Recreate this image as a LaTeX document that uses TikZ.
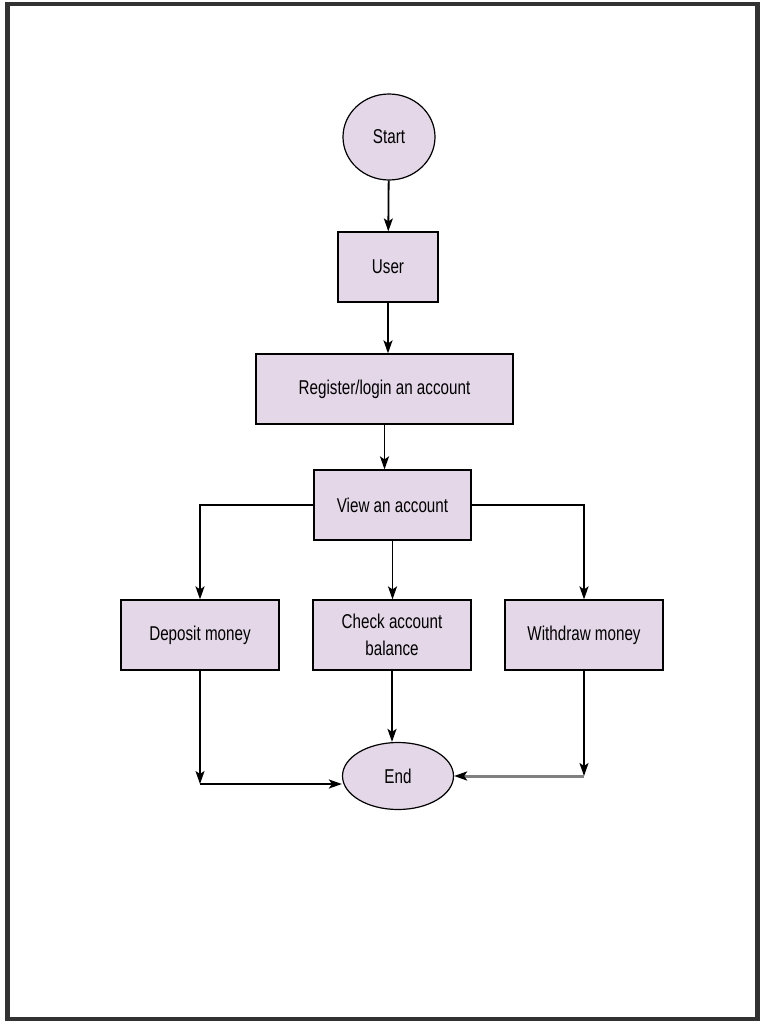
\documentclass[tikz,border=0pt]{standalone}
\usepackage{fontspec}
\usepackage{tikz}
\usetikzlibrary{arrows.meta}
\usetikzlibrary{positioning, shapes.geometric}

\newfontfamily\flowfont[FakeStretch=0.76]{Liberation Sans}
\definecolor{boxfill}{RGB}{228,216,232}
\definecolor{framegray}{RGB}{50,50,50}

\begin{document}
\begin{tikzpicture}[->,>={Stealth[length=13pt,width=9pt,inset=3pt]},x=1pt,y=-1pt,
                line width=1.8pt,
                box node/.style={rectangle,draw,fill=boxfill,line width=1.2pt,minimum height=70pt,
                        align=center,font=\flowfont\fontsize{20}{27}\selectfont},
                round node/.style={ellipse,draw,fill=boxfill,line width=1.2pt,
                        font=\flowfont\fontsize{20}{27}\selectfont}]

        \useasboundingbox (0,0) rectangle (768,1024);
        \draw[-,line width=4.5pt,framegray] (7.5,4) rectangle (757.5,1019);

        \node[round node,minimum width=92pt,minimum height=86pt] (0) at (389,137) {Start};
        \node[box node,minimum width=100pt] (1) at (388,267) {User};
        \node[box node,minimum width=257pt] (2) at (384.5,389) {Register/login an account};
        \node[box node,minimum width=157pt] (3) at (392.5,505) {View an account};
        \node[box node,minimum width=158pt] (4) at (200,635) {Deposit money};
        \node[box node,minimum width=158pt] (5) at (392,635) {Check account\\balance};
        \node[box node,minimum width=158pt] (6) at (584,635) {Withdraw money};
        \node[round node,minimum width=111pt,minimum height=67pt] (7) at (398,776) {End};

        \coordinate (c1) at (200,784);
        \coordinate (c2) at (584,776);

          \path
            (0) edge (1)
            (1.south) edge (1.south |- 2.north)
            (2.south) edge (2.south |- 3.north)
            (3.south) edge (3.south |- 5.north)
            (5.south) edge (5.south |- 7.north)
            (4) edge (c1)
            (6) edge (c2);

        \draw (3.west) -| (4.north);
        \draw (3.east) -| (6.north);
        \draw (c1) -- (c1 -| 7.west);
        \draw[line width=3pt,gray,-{Stealth[length=13pt,width=9pt,inset=3pt,black]}] (c2) -- (7.east);

\end{tikzpicture}
\end{document}
